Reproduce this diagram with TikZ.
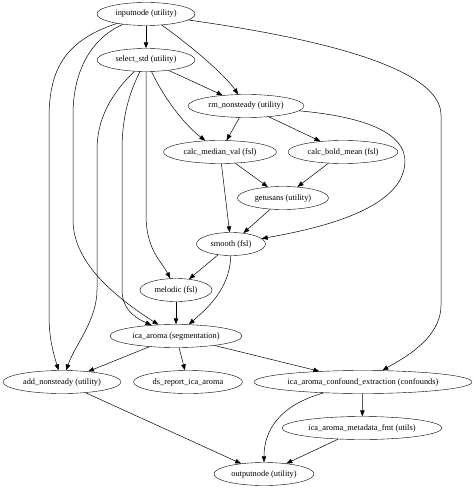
\documentclass[tikz,border=0pt]{standalone}
\usepackage{fontspec}
\setmainfont{Liberation Serif}
\usetikzlibrary{shapes.geometric,arrows.meta}
\begin{document}
\begin{tikzpicture}[x=1bp,y=-1bp,
  nd/.style={draw,ellipse,inner sep=0pt,minimum height=23bp,font=\fontsize{8.4}{9}\selectfont},
  edge/.style={draw,-{Triangle[length=6bp,width=4.5bp]},line width=0.5pt}]
\useasboundingbox (0,0) rectangle (474,489);
\node[nd,minimum width=98bp] (in) at (146,14) {inputnode (utility)};
\node[nd,minimum width=98bp] (sel) at (146,60) {select\_std (utility)};
\node[nd,minimum width=116bp] (rm) at (246,106) {rm\_nonsteady (utility)};
\node[nd,minimum width=113bp] (cmv) at (220,152) {calc\_median\_val (fsl)};
\node[nd,minimum width=110bp] (cbm) at (343,152) {calc\_bold\_mean (fsl)};
\node[nd,minimum width=91bp] (gus) at (283,198) {getusans (utility)};
\node[nd,minimum width=69bp] (smo) at (231,244) {smooth (fsl)};
\node[nd,minimum width=72bp] (mel) at (176,290) {melodic (fsl)};
\node[nd,minimum width=132bp] (ica) at (176,336) {ica\_aroma (segmentation)};
\node[nd,minimum width=118bp] (add) at (62,382) {add\_nonsteady (utility)};
\node[nd,minimum width=109bp] (ds) at (188,382) {ds\_report\_ica\_aroma};
\node[nd,minimum width=218bp] (conf) at (363,382) {ica\_aroma\_confound\_extraction (confounds)};
\node[nd,minimum width=160bp] (meta) at (362,428) {ica\_aroma\_metadata\_fmt (utils)};
\node[nd,minimum width=100bp] (out) at (264,474) {outputnode (utility)};

\path[edge] (in) -- (sel);
\path[edge] (in) .. controls (190,45) and (225,75) .. (rm);
\path[edge] (in) .. controls (60,42) and (49,75) .. (49,120) -- (49,315) .. controls (49,340) and (54,355) .. (add);
\path[edge] (in) .. controls (88,40) and (73,75) .. (73,115) -- (73,220) .. controls (73,265) and (120,300) .. (ica);
\path[edge] (in) .. controls (330,40) and (441,70) .. (441,115) -- (441,305) .. controls (441,340) and (400,360) .. (conf);
\path[edge] (sel) -- (rm);
\path[edge] (sel) .. controls (165,100) and (185,125) .. (cmv);
\path[edge] (sel) .. controls (110,95) and (97,120) .. (97,150) -- (97,290) .. controls (97,320) and (75,345) .. (add);
\path[edge] (sel) .. controls (128,95) and (122,120) .. (122,150) -- (122,290) .. controls (122,312) and (140,320) .. (ica);
\path[edge] (sel.south) -- (146,215) .. controls (146,250) and (162,262) .. (mel);
\path[edge] (rm) -- (cmv);
\path[edge] (rm) -- (cbm);
\path[edge] (rm) .. controls (400,120) and (415,150) .. (400,180) .. controls (380,215) and (310,230) .. (smo);
\path[edge] (cmv) -- (gus);
\path[edge] (cmv) -- (smo);
\path[edge] (cbm) -- (gus);
\path[edge] (gus) -- (smo);
\path[edge] (smo) -- (mel);
\path[edge] (smo) .. controls (230,290) and (205,310) .. (ica);
\path[edge] (mel) -- (ica);
\path[edge] (ica) -- (add);
\path[edge] (ica) -- (ds);
\path[edge] (ica) -- (conf);
\path[edge] (add) -- (out);
\path[edge] (conf) .. controls (280,405) and (264,430) .. (out);
\path[edge] (conf) -- (meta);
\path[edge] (meta) -- (out);
\end{tikzpicture}
\end{document}
